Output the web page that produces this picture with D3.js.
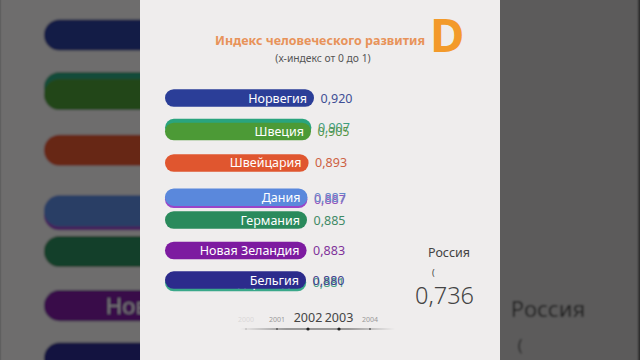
<!DOCTYPE html>
<html><head><meta charset="utf-8">
<script src="https://cdn.jsdelivr.net/npm/d3@7"></script>
<style>html,body{margin:0;padding:0;background:#5d5d5d;}svg{display:block;}</style>
</head><body>
<script>
// ---- data (one animation frame of a bar-chart race) ----
const names  = ["Австралия","Швеция","Швейцария","Исландия","Дания","Германия","Новая Зеландия","Нидерланды","Бельгия","Норвегия"];
const values = [0.907, 0.905, 0.893, 0.887, 0.887, 0.885, 0.883, 0.881, 0.880, 0.920];
const ranks  = [1.97, 2.10, 3.13, 4.32, 4.25, 5.0, 6.0, 7.05, 6.97, 1.0];
const colors = ["#2aa47e","#4c9a36","#e0562f","#9a45c8","#5a88dc","#2a8a5c","#7d1ba0","#3aa88a","#2c2b8c","#2b3e98"];
const years = [2000, 2001, 2002, 2003, 2004];
const currentYear = 2002.5;
const title = "Индекс человеческого развития";
const subtitle = "(х-индекс от 0 до 1)";
const highlightName = "Россия";
const highlightValue = 0.736;

const W = 640, H = 360;
const FONT = "'Noto Sans', 'Open Sans', sans-serif";
const svg = d3.select("body").append("svg").attr("width", W).attr("height", H);
const defs = svg.append("defs");

const x = d3.scaleLinear().domain([0.175, 0.92]).range([165, 314]);
const y = d3.scaleLinear().domain([1, 7]).range([98, 281]);
const barH = 17.5;
const tx = d3.scaleLinear().domain([2000, 2004]).range([246, 370]);
const fmt = v => d3.format(".3f")(v).replace(".", ",");
const mute = c => d3.interpolateRgb(c, "#8a8a8a")(0.22);

const grad = defs.append("linearGradient").attr("id", "axg").attr("x1", "0").attr("x2", "1");
grad.append("stop").attr("offset", "0").attr("stop-color", "#333").attr("stop-opacity", 0);
grad.append("stop").attr("offset", "0.3").attr("stop-color", "#333").attr("stop-opacity", 0.9);
grad.append("stop").attr("offset", "0.7").attr("stop-color", "#333").attr("stop-opacity", 0.9);
grad.append("stop").attr("offset", "1").attr("stop-color", "#333").attr("stop-opacity", 0);

function drawChart(g) {
  g.append("rect").attr("x", 140).attr("y", 0).attr("width", 360).attr("height", H).attr("fill", "#efeded");

  const data = names.map((n, i) => ({name: n, value: values[i], rank: ranks[i], color: colors[i]}));

  const bars = g.append("g");
  data.forEach(d => {
    const b = bars.append("g");
    b.append("rect")
      .attr("x", x.range()[0]).attr("y", y(d.rank) - barH / 2)
      .attr("width", x(d.value) - x.range()[0]).attr("height", barH)
      .attr("rx", barH / 2).attr("fill", d.color);
    b.append("text")
      .attr("x", x(d.value) - 7).attr("y", y(d.rank) + 4.5)
      .attr("text-anchor", "end").attr("fill", "#fff")
      .style("font-family", FONT).style("font-size", "12.5px")
      .text(d.name);
    b.append("text")
      .attr("x", x(d.value) + 6.5).attr("y", y(d.rank) + 4.5)
      .attr("fill", mute(d.color))
      .style("font-family", FONT).style("font-size", "12.5px")
      .text(fmt(d.value));
  });

  // title
  g.append("text").attr("x", 425).attr("y", 45).attr("text-anchor", "end")
    .attr("fill", "#e8935a").style("font-family", FONT).style("font-weight", "bold").style("font-size", "12.5px")
    .text(title);
  g.append("text").attr("x", 430).attr("y", 52).attr("fill", "#f39a2a")
    .style("font-family", FONT).style("font-weight", "bold").style("font-size", "47px")
    .text("D");
  g.append("text").attr("x", 323).attr("y", 62).attr("text-anchor", "middle")
    .attr("fill", "#555").style("font-family", FONT).style("font-size", "10.3px")
    .text(subtitle);

  // highlighted country
  g.append("text").attr("x", 428).attr("y", 257).attr("fill", "#444")
    .style("font-family", FONT).style("font-size", "12.5px").text(highlightName);
  g.append("text").attr("x", 432).attr("y", 276).attr("fill", "#444")
    .style("font-family", FONT).style("font-size", "9px").text("(");
  g.append("text").attr("x", 474).attr("y", 304).attr("text-anchor", "end").attr("fill", "#444")
    .style("font-family", FONT).style("font-weight", "300").style("font-size", "23.5px")
    .text(fmt(highlightValue));

  // time axis
  const ax = g.append("g");
  ax.append("rect").attr("x", 240).attr("y", 328.5).attr("width", 155).attr("height", 1).attr("fill", "url(#axg)");
  years.forEach(yr => {
    const near = Math.abs(yr - currentYear) < 1;
    const dist = Math.abs(yr - currentYear);
    ax.append("circle").attr("cx", tx(yr)).attr("cy", 329).attr("r", near ? 1.6 : 1)
      .attr("fill", "#222").attr("opacity", near ? 1 : (dist < 2 ? 0.6 : 0.15));
    ax.append("text").attr("x", tx(yr)).attr("y", 322).attr("text-anchor", "middle")
      .attr("fill", near ? "#444" : "#999").attr("opacity", dist < 2 ? 1 : 0.25)
      .style("font-family", FONT).style("font-size", near ? "12.5px" : "7px")
      .text(yr);
  });
}

// side (zoomed, darkened) copies
const blur = defs.append("filter").attr("id", "bl").attr("x", "-5%").attr("y", "-5%").attr("width", "110%").attr("height", "110%");
blur.append("feGaussianBlur").attr("stdDeviation", 0.8);
defs.append("clipPath").attr("id", "cl").append("rect").attr("x", 0).attr("y", 0).attr("width", 140).attr("height", H);
defs.append("clipPath").attr("id", "cr").append("rect").attr("x", 500).attr("y", 0).attr("width", 140).attr("height", H);

[["cl", 0, 0.54], ["cr", 500, 0.615]].forEach(([id, x0, dark]) => {
  const side = svg.append("g").attr("clip-path", `url(#${id})`);
  const inner = side.append("g").attr("filter", "url(#bl)")
    .append("g").attr("transform", "translate(-249,-139) scale(1.775)");
  drawChart(inner);
  side.append("rect").attr("x", x0).attr("y", 0).attr("width", 140).attr("height", H)
    .attr("fill", "#000").attr("opacity", dark);
});

drawChart(svg.append("g"));
</script>
</body></html>
